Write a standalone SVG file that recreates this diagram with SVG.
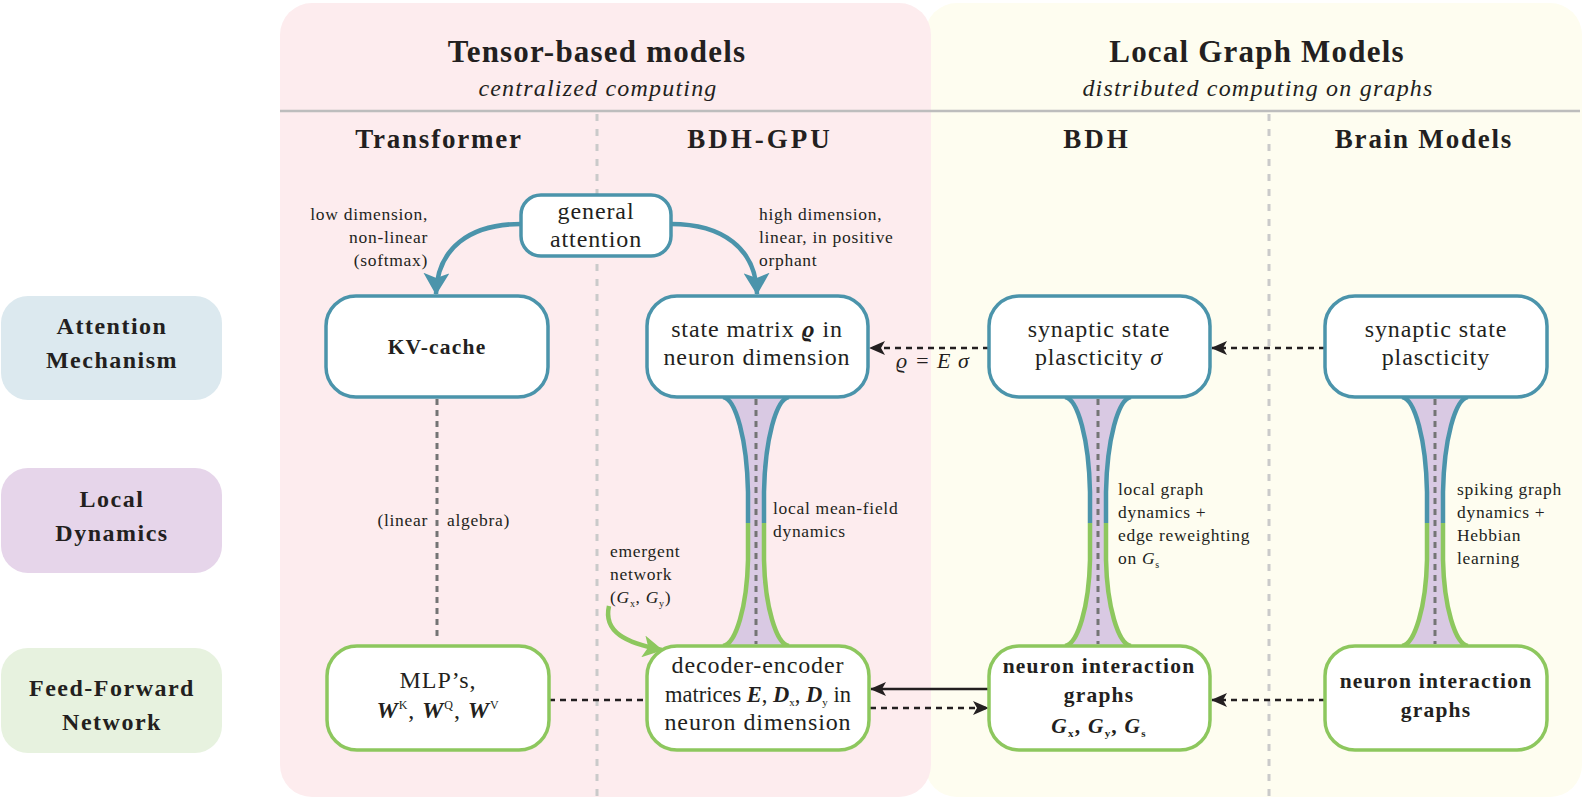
<svg xmlns="http://www.w3.org/2000/svg" width="1585" height="801" viewBox="0 0 1585 801">
<style>
text{font-family:"Liberation Serif","DejaVu Serif",serif;fill:#231f20}
.h1{font-size:31px;font-weight:bold;text-anchor:middle;letter-spacing:1.2px}
.h2{font-size:24px;font-style:italic;text-anchor:middle;letter-spacing:1.2px}
.h3{font-size:27px;font-weight:bold;text-anchor:middle;letter-spacing:1.8px}
.row{font-size:24px;font-weight:bold;text-anchor:middle;letter-spacing:1.5px}
.nt{font-size:24px;text-anchor:middle;letter-spacing:0.9px}
.nb{font-size:21.5px;font-weight:bold;text-anchor:middle;letter-spacing:1.2px}
.sm{font-size:17.5px;letter-spacing:0.7px}
.mi{font-style:italic;font-weight:bold}
.it{font-style:italic}
.node{fill:#fff;stroke-width:3.5}
.blue{stroke:#4b94ab}
.green{stroke:#8dc75e}
.vdash{stroke:#cacaca;stroke-width:3;stroke-dasharray:7 8;fill:none}
.cdash{stroke:#747474;stroke-width:3;stroke-dasharray:6 5;fill:none}
.conn{stroke:#231f20;stroke-width:2.6;fill:none}
.dash{stroke-dasharray:6 5}
.hfill{fill:#d9c9e3;stroke:none}
.hb{stroke:#4b94ab;stroke-width:4.5;fill:none}
.hg{stroke:#8dc75e;stroke-width:4.5;fill:none}
</style>
<defs>
<marker id="ak" markerUnits="userSpaceOnUse" markerWidth="16" markerHeight="14" refX="15" refY="7" orient="auto">
<path d="M0,0 L16,7 L0,14 L4,7 Z" fill="#231f20"/>
</marker>
<marker id="ab" markerUnits="userSpaceOnUse" markerWidth="22" markerHeight="26" refX="21" refY="13" orient="auto">
<path d="M0,0 L22,13 L0,26 L5,13 Z" fill="#4b94ab"/>
</marker>
<marker id="ag" markerUnits="userSpaceOnUse" markerWidth="20" markerHeight="22" refX="19" refY="11" orient="auto">
<path d="M0,0 L20,11 L0,22 L5,11 Z" fill="#8dc75e"/>
</marker>
</defs>

<rect width="1585" height="801" fill="#ffffff"/>
<g id="panels">
<rect x="925" y="3" width="657" height="794" rx="32" fill="#fefdf0"/>
<rect x="280" y="3" width="651" height="794" rx="32" fill="#fdecee"/>
<line x1="280" y1="111" x2="1580" y2="111" stroke="#bdbdbd" stroke-width="2.5"/>
<line class="vdash" x1="597" y1="114" x2="597" y2="797"/>
<line class="vdash" x1="1269" y1="114" x2="1269" y2="797"/>
<text class="h1" x="597" y="62">Tensor-based models</text>
<text class="h2" x="598" y="96">centralized computing</text>
<text class="h1" x="1257" y="62">Local Graph Models</text>
<text class="h2" x="1258" y="96">distributed computing on graphs</text>
<text class="h3" x="439" y="148">Transformer</text>
<text class="h3" x="760" y="148" style="letter-spacing:3px">BDH-GPU</text>
<text class="h3" x="1097" y="148" style="letter-spacing:3px">BDH</text>
<text class="h3" x="1424" y="148">Brain Models</text>
</g>

<g id="row-attention">
<rect x="1" y="296" width="221" height="104" rx="27" fill="#dce9ef"/>
<text class="row" x="112" y="334">Attention</text>
<text class="row" x="112" y="368">Mechanism</text>
</g>
<g id="row-local">
<rect x="1" y="468" width="221" height="105" rx="27" fill="#e6d5ea"/>
<text class="row" x="112" y="507">Local</text>
<text class="row" x="112" y="541">Dynamics</text>
</g>
<g id="row-ffn">
<rect x="1" y="648" width="221" height="105" rx="27" fill="#e7f2df"/>
<text class="row" x="112" y="696">Feed-Forward</text>
<text class="row" x="112" y="730">Network</text>
</g>

<g id="connectors">
<path class="hb" d="M521 224 C470 224 437 248 436 294" stroke-width="4" marker-end="url(#ab)"/>
<path class="hb" d="M671 224 C722 224 756 248 757 294" stroke-width="4" marker-end="url(#ab)"/>
<line class="cdash" x1="437" y1="399" x2="437" y2="638"/>
<!-- hourglass BDH-GPU c=756 -->
<path class="hfill" d="M723 397 C736 399 747 440 748 492 L748 560 C747 606 736 644 723 646 L789 646 C776 644 765 606 764 560 L764 492 C765 440 776 399 789 397 Z"/>
<path class="hb" d="M723 397 C736 399 747 440 748 492 L748 523"/>
<path class="hb" d="M789 397 C776 399 765 440 764 492 L764 523"/>
<path class="hg" d="M748 523 L748 560 C747 606 736 644 723 646"/>
<path class="hg" d="M764 523 L764 560 C765 606 776 644 789 646"/>
<line class="cdash" x1="756" y1="399" x2="756" y2="644"/>
<!-- hourglass BDH c=1098 -->
<path class="hfill" d="M1065 397 C1078 399 1089 440 1090 492 L1090 560 C1089 606 1078 644 1065 646 L1131 646 C1118 644 1107 606 1106 560 L1106 492 C1107 440 1118 399 1131 397 Z"/>
<path class="hb" d="M1065 397 C1078 399 1089 440 1090 492 L1090 523"/>
<path class="hb" d="M1131 397 C1118 399 1107 440 1106 492 L1106 523"/>
<path class="hg" d="M1090 523 L1090 560 C1089 606 1078 644 1065 646"/>
<path class="hg" d="M1106 523 L1106 560 C1107 606 1118 644 1131 646"/>
<line class="cdash" x1="1098" y1="399" x2="1098" y2="644"/>
<!-- hourglass Brain c=1435 -->
<path class="hfill" d="M1402 397 C1415 399 1426 440 1427 492 L1427 560 C1426 606 1415 644 1402 646 L1468 646 C1455 644 1444 606 1443 560 L1443 492 C1444 440 1455 399 1468 397 Z"/>
<path class="hb" d="M1402 397 C1415 399 1426 440 1427 492 L1427 523"/>
<path class="hb" d="M1468 397 C1455 399 1444 440 1443 492 L1443 523"/>
<path class="hg" d="M1427 523 L1427 560 C1426 606 1415 644 1402 646"/>
<path class="hg" d="M1443 523 L1443 560 C1444 606 1455 644 1468 646"/>
<line class="cdash" x1="1435" y1="399" x2="1435" y2="644"/>
<!-- emergent network arrow -->
<path class="hg" d="M609 606 C603 632 626 643 662 650" stroke-width="3.5" marker-end="url(#ag)"/>
<!-- dashed attention arrows -->
<line class="conn dash" x1="989" y1="348" x2="870" y2="348" marker-end="url(#ak)"/>
<line class="conn dash" x1="1325" y1="348" x2="1212" y2="348" marker-end="url(#ak)"/>
<!-- FFN connectors -->
<line class="conn dash" x1="549" y1="700" x2="647" y2="700"/>
<line class="conn" x1="989" y1="689" x2="871" y2="689" marker-end="url(#ak)"/>
<line class="conn dash" x1="870" y1="708" x2="988" y2="708" marker-end="url(#ak)"/>
<line class="conn dash" x1="1325" y1="700" x2="1212" y2="700" marker-end="url(#ak)"/>
</g>

<g id="labels">
<text class="sm" x="428" y="220" text-anchor="end">low dimension,</text>
<text class="sm" x="428" y="243" text-anchor="end">non-linear</text>
<text class="sm" x="428" y="266" text-anchor="end">(softmax)</text>
<text class="sm" x="759" y="220">high dimension,</text>
<text class="sm" x="759" y="243">linear, in positive</text>
<text class="sm" x="759" y="266">orphant</text>
<text class="sm" x="428" y="526" text-anchor="end">(linear</text>
<text class="sm" x="447" y="526">algebra)</text>
<text class="sm" x="773" y="514">local mean-field</text>
<text class="sm" x="773" y="537">dynamics</text>
<text class="sm" x="610" y="557">emergent</text>
<text class="sm" x="610" y="580">network</text>
<text class="sm" x="610" y="603">(<tspan class="it">G</tspan><tspan font-size="10" dy="4">x</tspan><tspan dy="-4">, </tspan><tspan class="it">G</tspan><tspan font-size="10" dy="4">y</tspan><tspan dy="-4">)</tspan></text>
<text class="sm" x="1118" y="495">local graph</text>
<text class="sm" x="1118" y="518">dynamics +</text>
<text class="sm" x="1118" y="541">edge reweighting</text>
<text class="sm" x="1118" y="564">on <tspan class="it">G</tspan><tspan font-size="10" dy="4">s</tspan></text>
<text class="sm" x="1457" y="495">spiking graph</text>
<text class="sm" x="1457" y="518">dynamics +</text>
<text class="sm" x="1457" y="541">Hebbian</text>
<text class="sm" x="1457" y="564">learning</text>
<text x="896" y="368" font-size="22" font-style="italic" letter-spacing="1">ϱ = E σ</text>
</g>

<g id="node-general-attention">
<rect class="node blue" x="521" y="195" width="150" height="61" rx="20"/>
<text class="nt" x="596" y="219">general</text>
<text class="nt" x="596" y="247">attention</text>
</g>
<g id="node-kv-cache">
<rect class="node blue" x="326" y="296" width="222" height="101" rx="30"/>
<text class="nb" x="437" y="354">KV-cache</text>
</g>
<g id="node-state-matrix">
<rect class="node blue" x="647" y="296" width="221" height="101" rx="30"/>
<text class="nt" x="757" y="337">state matrix <tspan class="mi">ϱ</tspan> in</text>
<text class="nt" x="757" y="365">neuron dimension</text>
</g>
<g id="node-synaptic-bdh">
<rect class="node blue" x="989" y="296" width="221" height="101" rx="30"/>
<text class="nt" x="1099" y="337">synaptic state</text>
<text class="nt" x="1099" y="365">plascticity <tspan class="it">σ</tspan></text>
</g>
<g id="node-synaptic-brain">
<rect class="node blue" x="1325" y="296" width="222" height="101" rx="30"/>
<text class="nt" x="1436" y="337">synaptic state</text>
<text class="nt" x="1436" y="365">plascticity</text>
</g>
<g id="node-mlp">
<rect class="node green" x="327" y="646" width="222" height="104" rx="30"/>
<text class="nt" x="438" y="688">MLP’s,</text>
<text class="nt" x="438" y="718"><tspan class="mi">W</tspan><tspan font-size="12" dy="-9">K</tspan><tspan dy="9">, </tspan><tspan class="mi">W</tspan><tspan font-size="12" dy="-9">Q</tspan><tspan dy="9">, </tspan><tspan class="mi">W</tspan><tspan font-size="12" dy="-9">V</tspan></text>
</g>
<g id="node-decoder-encoder">
<rect class="node green" x="647" y="646" width="222" height="104" rx="30"/>
<text class="nt" x="758" y="673">decoder-encoder</text>
<text class="nt" x="758" y="702" style="font-size:22.5px;letter-spacing:0">matrices <tspan class="mi">E</tspan>, <tspan class="mi">D</tspan><tspan font-size="11" dy="4">x</tspan><tspan dy="-4">, </tspan><tspan class="mi">D</tspan><tspan font-size="11" dy="4">y</tspan><tspan dy="-4"> in</tspan></text>
<text class="nt" x="758" y="730">neuron dimension</text>
</g>
<g id="node-neuron-graphs-bdh">
<rect class="node green" x="989" y="646" width="221" height="104" rx="30"/>
<text class="nb" x="1099" y="673">neuron interaction</text>
<text class="nb" x="1099" y="702">graphs</text>
<text class="nb" x="1099" y="733"><tspan class="mi">G</tspan><tspan font-size="11" dy="4">x</tspan><tspan dy="-4">, </tspan><tspan class="mi">G</tspan><tspan font-size="11" dy="4">y</tspan><tspan dy="-4">, </tspan><tspan class="mi">G</tspan><tspan font-size="11" dy="4">s</tspan></text>
</g>
<g id="node-neuron-graphs-brain">
<rect class="node green" x="1325" y="646" width="222" height="104" rx="30"/>
<text class="nb" x="1436" y="688">neuron interaction</text>
<text class="nb" x="1436" y="717">graphs</text>
</g>
</svg>
